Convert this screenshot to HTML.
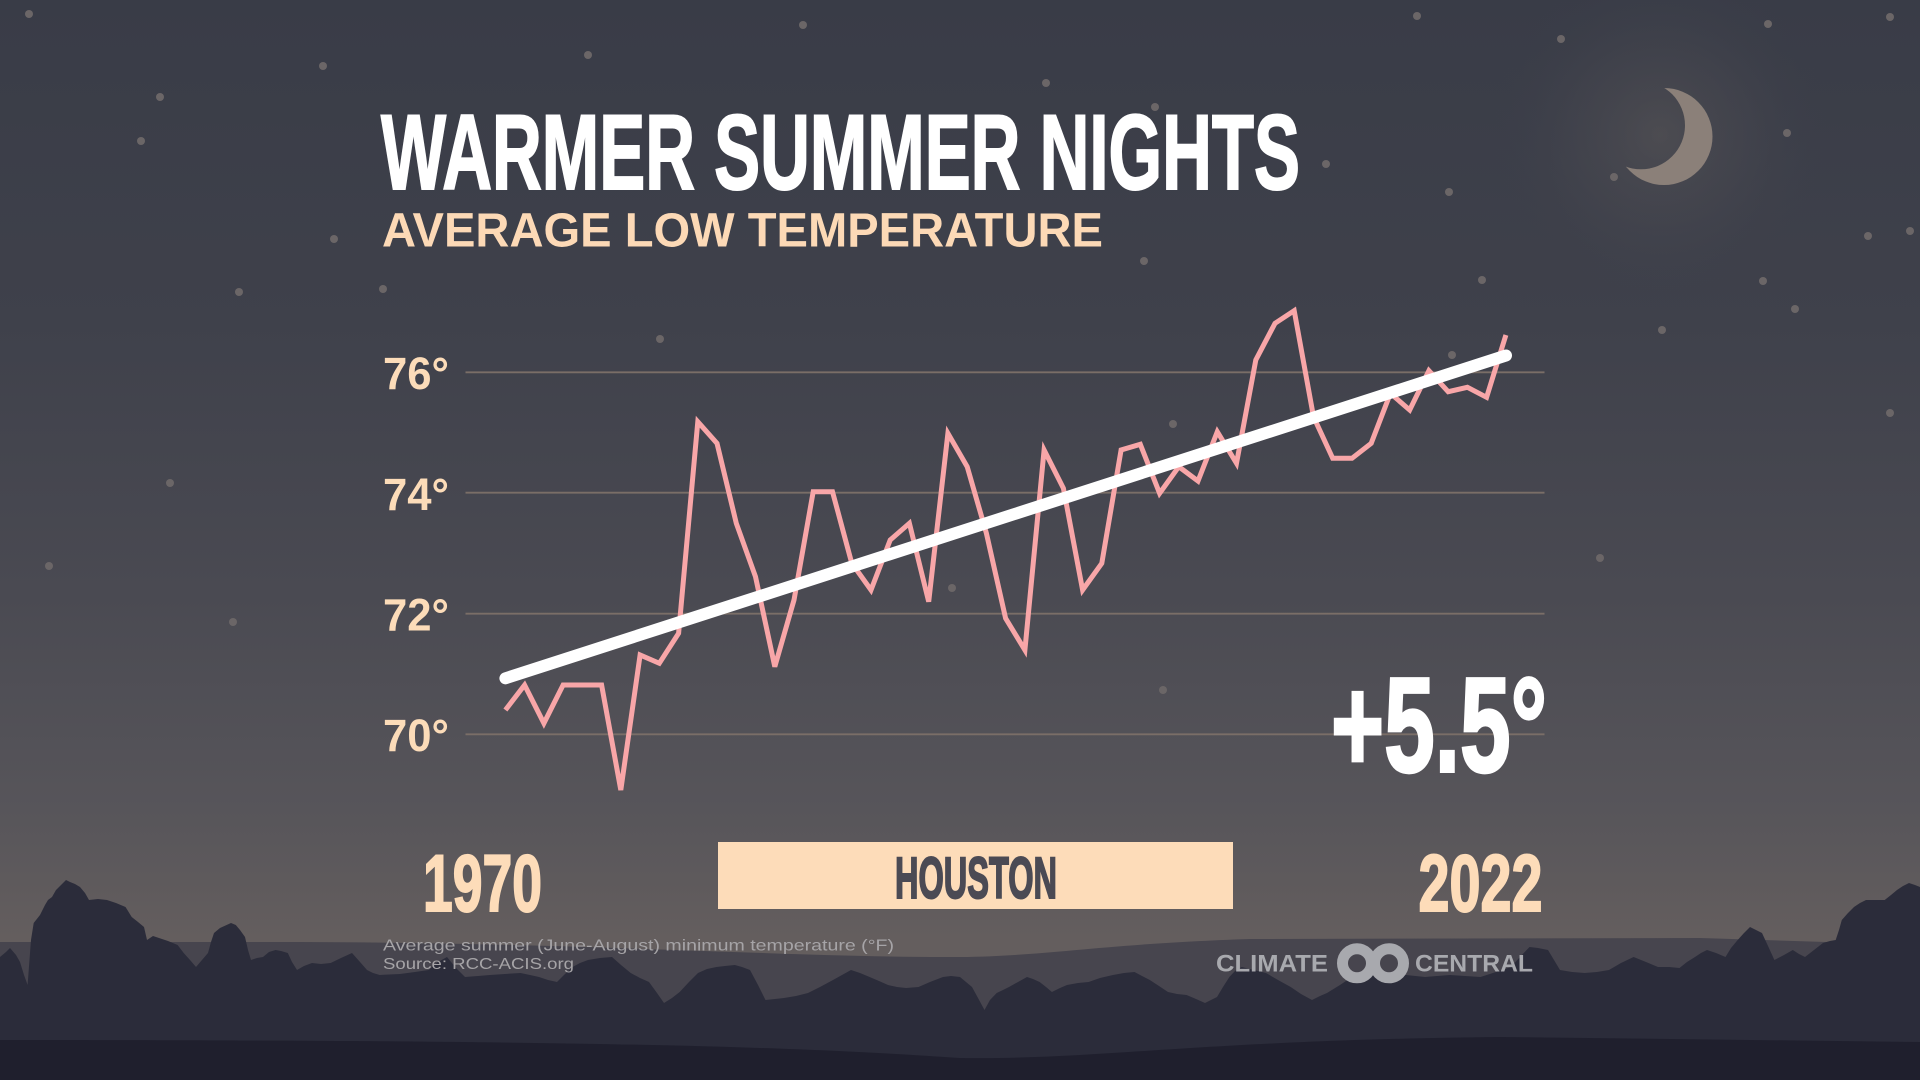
<!DOCTYPE html>
<html>
<head>
<meta charset="utf-8">
<style>
html,body{margin:0;padding:0;background:#3a3d48;}
svg{display:block;}
text{font-family:"Liberation Sans",sans-serif;}
</style>
</head>
<body>
<svg width="1920" height="1080" viewBox="0 0 1920 1080" xmlns="http://www.w3.org/2000/svg">
<defs>
  <linearGradient id="sky" x1="0" y1="0" x2="0" y2="1">
    <stop offset="0" stop-color="#393c47"/>
    <stop offset="0.3" stop-color="#3f414b"/>
    <stop offset="0.55" stop-color="#4a4a52"/>
    <stop offset="0.75" stop-color="#57555a"/>
    <stop offset="0.87" stop-color="#645e5e"/>
    <stop offset="1" stop-color="#645e5e"/>
  </linearGradient>
  <radialGradient id="glow" cx="0.5" cy="0.5" r="0.5">
    <stop offset="0" stop-color="#5a5758" stop-opacity="0.55"/>
    <stop offset="0.5" stop-color="#4e4d53" stop-opacity="0.3"/>
    <stop offset="1" stop-color="#3c3f4a" stop-opacity="0"/>
  </radialGradient>
  <mask id="moonmask">
    <rect x="1500" y="0" width="300" height="300" fill="#fff"/>
    <circle cx="1641" cy="125.3" r="44" fill="#000"/>
  </mask>
</defs>

<!-- sky -->
<rect x="0" y="0" width="1920" height="1080" fill="url(#sky)"/>

<!-- moon glow + moon -->
<circle cx="1660" cy="135" r="170" fill="url(#glow)"/>
<circle cx="1664" cy="136.5" r="48.5" fill="#8b8079" mask="url(#moonmask)"/>

<!-- stars -->
<g fill="#6b6667">
  <circle cx="29" cy="14" r="4"/>
  <circle cx="323" cy="66" r="4"/>
  <circle cx="588" cy="55" r="4"/>
  <circle cx="803" cy="25" r="4"/>
  <circle cx="160" cy="97" r="4"/>
  <circle cx="141" cy="141" r="4"/>
  <circle cx="334" cy="239" r="4"/>
  <circle cx="239" cy="292" r="4"/>
  <circle cx="383" cy="289" r="4"/>
  <circle cx="660" cy="339" r="4"/>
  <circle cx="170" cy="483" r="4"/>
  <circle cx="49" cy="566" r="4"/>
  <circle cx="233" cy="622" r="4"/>
  <circle cx="952" cy="588" r="4"/>
  <circle cx="1417" cy="16" r="4"/>
  <circle cx="1561" cy="39" r="4"/>
  <circle cx="1768" cy="24" r="4"/>
  <circle cx="1890" cy="17" r="4"/>
  <circle cx="1046" cy="83" r="4"/>
  <circle cx="1155" cy="107" r="4"/>
  <circle cx="1326" cy="164" r="4"/>
  <circle cx="1449" cy="192" r="4"/>
  <circle cx="1787" cy="133" r="4"/>
  <circle cx="1614" cy="177" r="4"/>
  <circle cx="1868" cy="236" r="4"/>
  <circle cx="1910" cy="231" r="4"/>
  <circle cx="1144" cy="261" r="4"/>
  <circle cx="1482" cy="280" r="4"/>
  <circle cx="1763" cy="281" r="4"/>
  <circle cx="1795" cy="309" r="4"/>
  <circle cx="1662" cy="330" r="4"/>
  <circle cx="1452" cy="355" r="4"/>
  <circle cx="1173" cy="424" r="4"/>
  <circle cx="1890" cy="413" r="4"/>
  <circle cx="1600" cy="558" r="4"/>
  <circle cx="1163" cy="690" r="4"/>
</g>

<!-- distant hill band -->
<path d="M0,942 L300,942 C600,943 800,958 960,957 C1050,956 1100,944 1250,939 L1700,938 L1920,945 L1920,1080 L0,1080 Z" fill="#47454e"/>

<!-- trees -->
<polygon fill="#2b2c3a" points="0,1080 0,957 6,952 10,948 16,955 20,962 24,975 27.6,985 31,940 33.7,923 40,915 45,905 48,900 52,897 56,890 61,885 66,880 70,882 75,884 80,887 85,893 89,900 98,899 107,900 116,903 125.5,907 131.7,917 138,922 144,927 147,940 153,936 159,938 168,941 177.6,945 183.7,953 190,960 196,967 202,960 208,953 211,942 214,933 220,928 226.6,925 231,923 235.8,925 240,930 245,937 248,950 251,960 257,958 263,957 269,952 275.6,950 281,951 287.8,953 292,962 297,970 304,966 312,963 321,964 330.7,963 341,958 352,953 360,962 367,970 373,973 379.7,975 400,974 415,972 428.7,970 438,962 447,957 456,968 465,977 478,976 490,975 505,974 520.5,973 530,975 539,977 548,980 557,982 565,974 572.6,967 580,963 588,960 600,958 612,957 621,965 630.7,973 640,978 649,982 657,993 664,1003 672,998 679.7,992 689,982 698,973 707,969 716.5,967 725,966 734.8,965 742,967 750,970 758,985 765.5,1000 775,999 784,998 796,996 808,993 820,987 833,980 842,975 851,970 860,973 869.6,977 879,981 888,985 897,987 906,988 918.5,987 930,982 943,977 951,976 960,977 966,982 972,987 978,998 984.5,1010 990,1000 996.7,993 1003,990 1009,987 1018,982 1027,977 1033,979 1039.6,982 1046,987 1051.9,992 1060,988 1067,985 1078,983 1088.6,982 1100,978 1113,975 1124,973 1134.5,972 1142,976 1149.8,980 1159,986 1168,992 1177,994 1186.6,995 1196,999 1205,1003 1211,1000 1217,997 1223,987 1229.4,977 1235,971 1241.7,967 1254,970 1266,973 1278,980 1290.7,987 1301,994 1312,1000 1320,996 1327,993 1340,985 1352,977 1370,975 1388.7,973 1406,975 1425,977 1437,976 1450,975 1465,976 1480.5,977 1496,972 1511,967 1520,957 1529.5,947 1538,948 1548,950 1554,960 1560,970 1572,972 1584.6,973 1597,972 1609,970 1621,963 1633.6,957 1646,962 1658,967 1669,967 1679.5,968 1687,962 1695,957 1701,953 1707,950 1716,953 1725.5,957 1731,948 1737.7,940 1744,933 1750,927 1756,930 1762,933 1768,946 1774.4,960 1784,955 1792.8,950 1799,954 1805,957 1814,950 1823,943 1830,941 1835.7,940 1839,930 1841.8,920 1848,913 1854,907 1860,903 1866,900 1875,900 1884.7,900 1891,895 1897,890 1903,886 1909,883 1915,885 1920,887 1920,1080"/>

<!-- ground -->
<path d="M0,1040 C600,1040 800,1047 960,1058 C1100,1060 1200,1040 1500,1037 L1920,1042 L1920,1080 L0,1080 Z" fill="#1f1f2d"/>

<!-- title -->
<text x="381" y="189" font-size="107" font-weight="bold" fill="#ffffff" stroke="#ffffff" stroke-width="2" textLength="919" lengthAdjust="spacingAndGlyphs">WARMER SUMMER NIGHTS</text>
<text x="382" y="246.5" font-size="48" font-weight="bold" fill="#fcd9b6" textLength="721" lengthAdjust="spacingAndGlyphs">AVERAGE LOW TEMPERATURE</text>

<!-- gridlines -->
<g stroke="#7a6e67" stroke-width="1.8">
  <line x1="465.5" y1="372.3" x2="1544.5" y2="372.3"/>
  <line x1="465.5" y1="492.7" x2="1544.5" y2="492.7"/>
  <line x1="465.5" y1="613.7" x2="1544.5" y2="613.7"/>
  <line x1="465.5" y1="734.3" x2="1544.5" y2="734.3"/>
</g>

<!-- y labels -->
<g font-size="45" font-weight="bold" fill="#fcdcb9">
  <text x="383" y="389" textLength="66" lengthAdjust="spacingAndGlyphs">76°</text>
  <text x="383" y="510" textLength="66" lengthAdjust="spacingAndGlyphs">74°</text>
  <text x="383" y="630.5" textLength="66" lengthAdjust="spacingAndGlyphs">72°</text>
  <text x="383" y="751" textLength="66" lengthAdjust="spacingAndGlyphs">70°</text>
</g>

<!-- data line -->
<polyline fill="none" stroke="#f8a6a8" stroke-width="5" stroke-linejoin="miter" stroke-miterlimit="4" stroke-linecap="butt"
points="505.4,710 524.6,685 543.9,723.3 563.1,685 582.4,685 601.6,685 620.8,790 640.1,655 659.3,663.3 678.6,633.3 697.8,421.7 717.0,443.3 736.3,523.3 755.5,576.7 774.8,666.7 794.0,600 813.2,491.7 832.5,491.7 851.7,563 871.0,590 890.2,540 909.4,523.3 928.7,601.7 947.9,433.3 967.2,466.7 986.4,533.3 1005.6,618.3 1024.9,650 1044.1,450 1063.4,488.3 1082.6,590 1101.8,563.3 1121.1,450 1140.3,444.3 1159.6,493.3 1178.8,466.7 1198.0,481 1217.3,431.7 1236.5,463.3 1255.8,360 1275.0,323.3 1294.2,310.7 1313.5,416.7 1332.7,458.3 1352.0,458.3 1371.2,443.3 1390.4,393.3 1409.7,410 1428.9,370.7 1448.2,391.7 1467.4,387.3 1486.6,397.3 1505.9,335"/>

<!-- trend line -->
<line x1="505.4" y1="678.3" x2="1506" y2="355.5" stroke="#ffffff" stroke-width="12" stroke-linecap="round"/>

<!-- +5.5 -->
<text x="1331" y="771.5" font-size="135" font-weight="bold" fill="#ffffff" stroke="#ffffff" stroke-width="3" textLength="216" lengthAdjust="spacingAndGlyphs">+5.5°</text>

<!-- years -->
<text x="423" y="911" font-size="81" font-weight="bold" fill="#fddcb9" stroke="#fddcb9" stroke-width="2" textLength="119" lengthAdjust="spacingAndGlyphs">1970</text>
<text x="1418.5" y="911" font-size="81" font-weight="bold" fill="#fddcb9" stroke="#fddcb9" stroke-width="2" textLength="124" lengthAdjust="spacingAndGlyphs">2022</text>

<!-- HOUSTON box -->
<rect x="718" y="842" width="515" height="67" fill="#fddcb9"/>
<text x="895" y="898" font-size="58" font-weight="bold" fill="#4b4a54" stroke="#4b4a54" stroke-width="2" textLength="162" lengthAdjust="spacingAndGlyphs">HOUSTON</text>

<!-- source -->
<g font-size="16" fill="#a6a4a7">
  <text x="383" y="950.5" textLength="511" lengthAdjust="spacingAndGlyphs">Average summer (June-August) minimum temperature (°F)</text>
  <text x="383" y="969" textLength="191" lengthAdjust="spacingAndGlyphs">Source: RCC-ACIS.org</text>
</g>

<!-- Climate Central logo -->
<g fill="#a8a9ae">
  <text x="1216" y="971.7" font-size="24" font-weight="bold" textLength="112" lengthAdjust="spacingAndGlyphs">CLIMATE</text>
  <text x="1415" y="971.7" font-size="24" font-weight="bold" textLength="118" lengthAdjust="spacingAndGlyphs">CENTRAL</text>
</g>
<g fill="none" stroke="#a8a9ae" stroke-width="11">
  <circle cx="1357" cy="963.3" r="14.5"/>
  <circle cx="1389" cy="963.3" r="14.5"/>
</g>
</svg>
</body>
</html>
